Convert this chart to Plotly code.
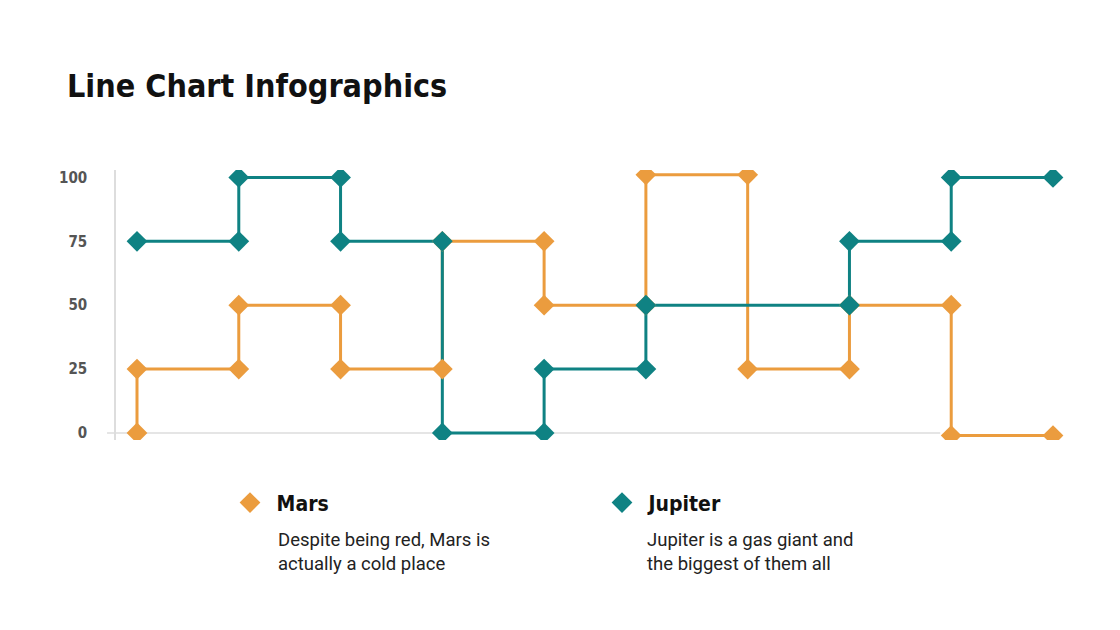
import plotly.graph_objects as go

# ---- data ----
mars_x = [0, 0, 1, 1, 2, 2, 3, 3, 4, 4, 5, 5, 6, 6, 7, 7, 8, 8, 9]
mars_y = [0, 25, 25, 50, 50, 25, 25, 75, 75, 50, 50, 101, 101, 25, 25, 50, 50, -1, -1]
jup_x = [0, 1, 1, 2, 2, 3, 3, 4, 4, 5, 5, 7, 7, 8, 8, 9]
jup_y = [75, 75, 100, 100, 75, 75, 0, 0, 25, 25, 50, 50, 75, 75, 100, 100]
y_ticks = [0, 25, 50, 75, 100]
series_names = ["Mars", "Jupiter"]
descriptions = ["Despite being red, Mars is<br>actually a cold place",
                "Jupiter is a gas giant and<br>the biggest of them all"]

ORANGE = "#EB9C3E"
TEAL = "#0F8283"
COND = "DejaVu Sans Condensed, Roboto, sans-serif"

fig = go.Figure()
fig.add_trace(go.Scatter(x=mars_x, y=mars_y, mode="lines",
                         line=dict(color=ORANGE, width=3), showlegend=False, hoverinfo="skip"))
fig.add_trace(go.Scatter(x=jup_x, y=jup_y, mode="lines",
                         line=dict(color=TEAL, width=3), showlegend=False, hoverinfo="skip"))
fig.add_trace(go.Scatter(x=mars_x, y=mars_y, mode="markers",
                         marker=dict(symbol="diamond", size=16, color=ORANGE), showlegend=False))
fig.add_trace(go.Scatter(x=jup_x, y=jup_y, mode="markers",
                         marker=dict(symbol="diamond", size=16, color=TEAL), showlegend=False))

# legend entries (diamond only)
for name, col in zip(series_names, [ORANGE, TEAL]):
    fig.add_trace(go.Scatter(x=[None], y=[None], mode="markers", name=" " + name,
                             marker=dict(symbol="diamond", size=16, color=col)))

fig.add_shape(type="line", xref="paper", yref="y", x0=-0.0094, x1=0.864, y0=0, y1=0,
              line=dict(color="#dddddd", width=1.5), layer="below")

for xp, txt in zip([0.1677, 0.5545], descriptions):
    fig.add_annotation(xref="paper", yref="paper", x=xp, y=-0.322, xanchor="left", yanchor="top",
                       text=txt, showarrow=False, align="left",
                       font=dict(family="Roboto", size=18.5, color="#222222"))

fig.update_layout(
    width=1120, height=630,
    paper_bgcolor="white", plot_bgcolor="white",
    margin=dict(l=116, r=50, t=170, b=190),
    title=dict(text="Line Chart Infographics", xref="container", yref="container",
               x=67/1120, xanchor="left", y=1-86/630, yanchor="middle",
               font=dict(family=COND, size=32, color="#111111", weight="bold")),
    xaxis=dict(range=[-0.2063, 9.167], showgrid=False, zeroline=False, showticklabels=False,
               showline=False, fixedrange=True),
    yaxis=dict(range=[-2.74, 102.9], tickvals=y_ticks, showgrid=False, zeroline=False,
               showline=True, linecolor="#dddddd", linewidth=1.5,
               ticks="", ticklabelstandoff=24,
               tickfont=dict(family=COND, size=15, color="#555555", weight="bold")),
    legend=dict(orientation="h", x=0.1195, y=-0.233, xanchor="left", yanchor="middle",
                entrywidth=327, entrywidthmode="pixels",
                font=dict(family=COND, size=21, color="#111111", weight="bold"),
                bgcolor="rgba(0,0,0,0)"),
)

fig.write_html("out.html", config={"displayModeBar": False},
               post_script="document.body.style.margin='0';")
